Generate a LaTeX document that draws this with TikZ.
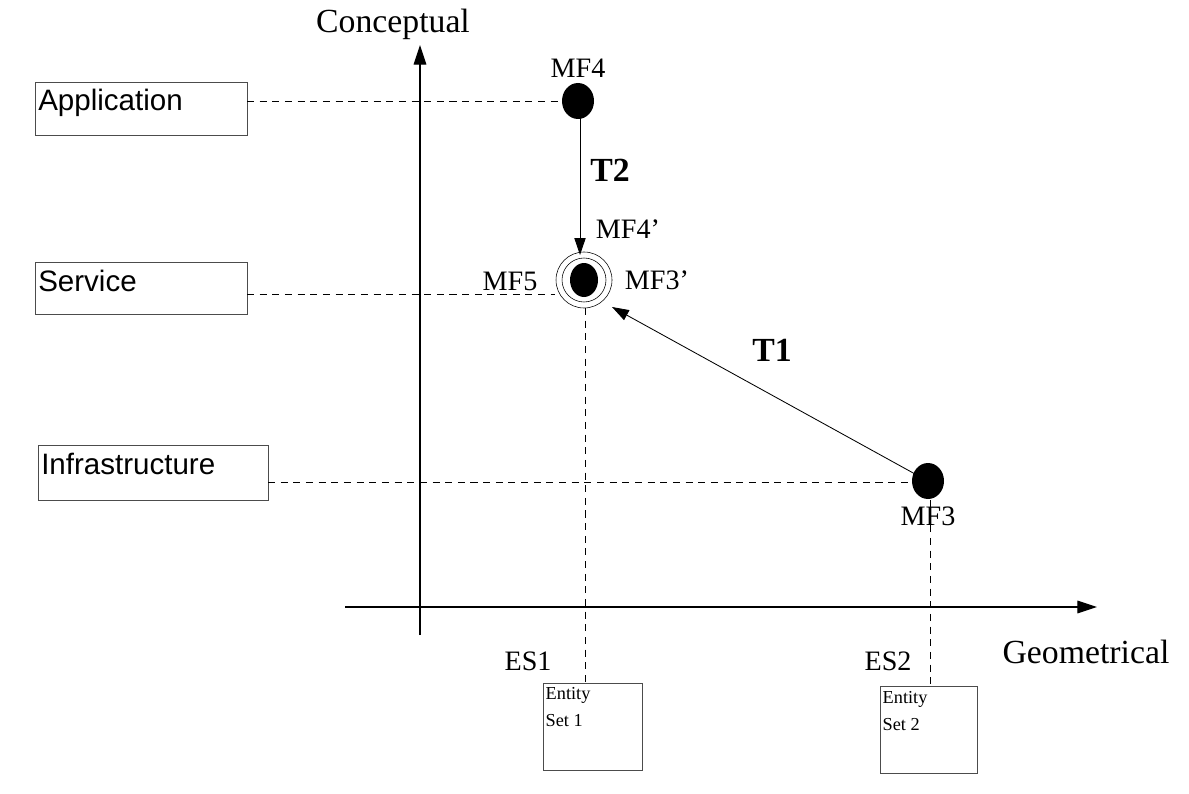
\documentclass[tikz,border=0pt]{standalone}
\usepackage{fontspec}
\setmainfont{Liberation Serif}
\setsansfont{Liberation Sans}
\usetikzlibrary{arrows.meta}
\begin{document}
\begin{tikzpicture}[x=0.025cm,y=-0.025cm,
	layer/.style={inner sep=0pt, anchor=north west, font=\sffamily\fontsize{21}{23}\selectfont},
	guide/.style={dashed, semithick, dash pattern=on 5pt off 4pt},
	axis/.style={thick, -{Triangle[length=14pt,width=9pt]}},
	move/.style={semithick, -{Triangle[length=12pt,width=8pt]}},
	mf/.style={font=\fontsize{20}{22}\selectfont},
	dot/.style={fill=black}]
	\useasboundingbox (0,0) rectangle (1189,794);
	% axes
	\coordinate (vlo) at (420,635);
	\coordinate (vhi) at (420,45);
	\coordinate (hlo) at (345,607);
	\coordinate (hhi) at (1097,607);
	\draw[axis] (vlo) -- (vhi);
	\draw[axis] (hlo) -- (hhi);
	\node[font=\fontsize{24}{26}\selectfont] (conc) at (393,24) {Conceptual};
	\node[font=\fontsize{24}{26}\selectfont] (geom) at (1086,652) {Geometrical};
	% layers
	\draw[black!70] (35,82) rectangle (247,135);
	\node[layer] (app) at (38,89) {Application};
	\draw[black!70] (35,262) rectangle (247,314);
	\node[layer] (serv) at (38,270) {Service};
	\draw[black!70] (38,445) rectangle (268,500);
	\node[layer] (infra) at (41,453) {Infrastructure};
	% points
	\fill[dot] (578,101) ellipse (16 and 18);
	\coordinate (mf4) at (578,101);
	\coordinate (mf5) at (584,280);
	\fill[dot] (mf5) ellipse (14 and 17);
	\draw (mf5) circle (22);
	\draw (mf5) circle (28);
	\coordinate (mf3) at (928,481);
	\fill[dot] (mf3) ellipse (16 and 18);
	% guides
	\draw[guide] (247,101) -- (560,101);
	\draw[guide] (247,294) -- (555,294);
	\draw[guide] (268,482) -- (912,482);
	\draw[guide] (585,308) -- (585,683);
	\draw[guide] (930,500) -- (930,686);
	% transitions
	\draw[move] (580,118) -- (580,255);
	\draw[move] (915,474) -- (612,307);
	\node[font=\bfseries\fontsize{24}{26}\selectfont] (t2) at (610,170) {T2};
	\node[font=\bfseries\fontsize{24}{26}\selectfont] (t1) at (772,350) {T1};
	% labels
	\node[mf] (lmf4) at (578,68) {MF4};
	\node[mf] (lmf4p) at (628,229) {MF4'};
	\node[mf] (lmf5) at (510,281) {MF5};
	\node[mf] (lmf3p) at (657,280) {MF3'};
	\node[mf] (lmf3) at (928,516) {MF3};
	\node[mf] (es1) at (528,661) {ES1};
	\node[mf] (es2) at (888,661) {ES2};
	% entity sets
	\draw[black!70] (543,683) rectangle (642,770);
	\node[anchor=north west, inner sep=1pt, align=left, font=\fontsize{13}{19}\selectfont] (set1) at (544,686) {Entity\\Set 1};
	\draw[black!70] (880,686) rectangle (977,773);
	\node[anchor=north west, inner sep=1pt, align=left, font=\fontsize{13}{19}\selectfont] (set2) at (881,690) {Entity\\Set 2};
\end{tikzpicture}
\end{document}
